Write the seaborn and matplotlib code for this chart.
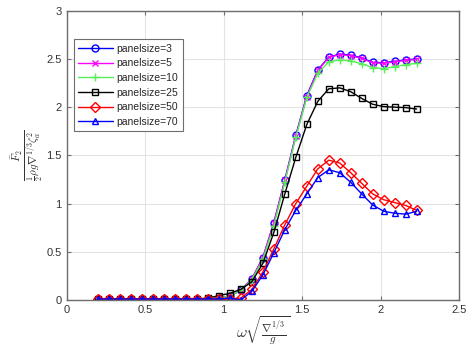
import matplotlib
matplotlib.use("Agg")
import matplotlib.pyplot as plt
import seaborn as sns
import pandas as pd

omega = [0.20, 0.27, 0.34, 0.41, 0.48, 0.55, 0.62, 0.69, 0.76, 0.83,
         0.90, 0.97, 1.04, 1.11, 1.18, 1.25, 1.32, 1.39, 1.46, 1.53,
         1.60, 1.67, 1.74, 1.81, 1.88, 1.95, 2.02, 2.09, 2.16, 2.23]

ps3 = [0.01, 0.01, 0.01, 0.01, 0.01, 0.01, 0.01, 0.01, 0.01, 0.01,
       0.01, 0.02, 0.04, 0.10, 0.22, 0.44, 0.80, 1.245, 1.71, 2.12,
       2.385, 2.52, 2.55, 2.54, 2.51, 2.465, 2.46, 2.475, 2.49, 2.50]
ps5 = [0.01, 0.01, 0.01, 0.01, 0.01, 0.01, 0.01, 0.01, 0.01, 0.01,
       0.01, 0.02, 0.04, 0.10, 0.22, 0.44, 0.80, 1.24, 1.70, 2.11,
       2.38, 2.515, 2.545, 2.535, 2.505, 2.46, 2.455, 2.47, 2.485, 2.495]
ps10 = [0.01, 0.01, 0.01, 0.01, 0.01, 0.01, 0.01, 0.01, 0.01, 0.01,
        0.01, 0.02, 0.04, 0.10, 0.21, 0.42, 0.77, 1.22, 1.69, 2.10,
        2.35, 2.47, 2.49, 2.48, 2.45, 2.41, 2.40, 2.42, 2.44, 2.455]
ps25 = [0.01, 0.01, 0.01, 0.01, 0.01, 0.01, 0.01, 0.01, 0.01, 0.01,
        0.02, 0.045, 0.07, 0.11, 0.19, 0.38, 0.70, 1.10, 1.48, 1.82,
        2.06, 2.19, 2.20, 2.16, 2.09, 2.03, 2.005, 2.00, 1.995, 1.98]
ps50 = [0.01, 0.01, 0.01, 0.01, 0.01, 0.01, 0.01, 0.01, 0.01, 0.01,
        0.01, 0.01, 0.01, 0.02, 0.11, 0.29, 0.53, 0.78, 1.00, 1.18,
        1.36, 1.45, 1.42, 1.32, 1.21, 1.10, 1.04, 1.01, 0.98, 0.93]
ps70 = [0.01, 0.01, 0.01, 0.01, 0.01, 0.01, 0.01, 0.01, 0.01, 0.01,
        0.01, 0.01, 0.02, 0.00, 0.09, 0.26, 0.49, 0.73, 0.93, 1.10,
        1.27, 1.35, 1.32, 1.22, 1.10, 0.985, 0.92, 0.90, 0.89, 0.92]

labels = ["panelsize=3", "panelsize=5", "panelsize=10",
          "panelsize=25", "panelsize=50", "panelsize=70"]
series = [ps3, ps5, ps10, ps25, ps50, ps70]

colors = ["#0000ff", "#ff00ff", "#55ee55", "#000000", "#ff0000", "#0000ff"]
markers = ["o", "x", "+", "s", "D", "^"]
msizes = [5, 4, 5.5, 4.2, 4.6, 5]

sns.set_style("white")
plt.rcParams["font.family"] = ["Liberation Sans", "DejaVu Sans"]
plt.rcParams["mathtext.fontset"] = "cm"

fig = plt.figure(figsize=(4.74, 3.62), dpi=100)
ax = fig.add_axes([0.1407, 0.1713, 0.8277, 0.7991])

for lab, ys, c, m, ms in zip(labels, series, colors, markers, msizes):
    df = pd.DataFrame({"omega": omega, "F": ys})
    sns.lineplot(data=df, x="omega", y="F", ax=ax, color=c, marker=m,
                 markersize=ms, markerfacecolor="none", markeredgecolor=c,
                 markeredgewidth=1.0, linewidth=1.0, label=lab,
                 errorbar=None, sort=False)

ax.set_xlim(0, 2.5)
ax.set_ylim(0, 3)
ax.set_xticks([0, 0.5, 1, 1.5, 2, 2.5])
ax.set_xticklabels(["0", "0.5", "1", "1.5", "2", "2.5"])
ax.set_yticks([0, 0.5, 1, 1.5, 2, 2.5, 3])
ax.set_yticklabels(["0", "0.5", "1", "1.5", "2", "2.5", "3"])
ax.grid(True, color="#e4e4e4", linewidth=0.8)
ax.set_axisbelow(True)
ax.tick_params(direction="in", length=3, width=0.8, colors="#6e6e6e",
               labelcolor="#333333", labelsize=8, top=True, right=True,
               bottom=True, left=True)
for sp in ax.spines.values():
    sp.set_color("#6e6e6e")
    sp.set_linewidth(1.0)

ax.set_xlabel(r"$\omega\sqrt{\frac{\nabla^{1/3}}{g}}$", fontsize=11.5, color="#333333")
ax.xaxis.set_label_coords(0.5, -0.05)
ax.set_ylabel(r"$\frac{\bar{F}_2}{\frac{1}{2}\rho g\nabla^{1/3}\zeta_a^2}$",
              fontsize=11.5, color="#333333")
ax.yaxis.set_label_coords(-0.1, 0.5)
ax.yaxis.label.set_va("center")

leg = ax.legend(loc="upper left", bbox_to_anchor=(0.0186, 0.901),
                borderaxespad=0, fontsize=7.5, labelspacing=0.45,
                handlelength=3.3, handletextpad=0.4, borderpad=0.4,
                frameon=True, fancybox=False, framealpha=1,
                edgecolor="#6e6e6e")
leg.get_frame().set_linewidth(0.8)

fig.savefig("out.png", dpi=100)
